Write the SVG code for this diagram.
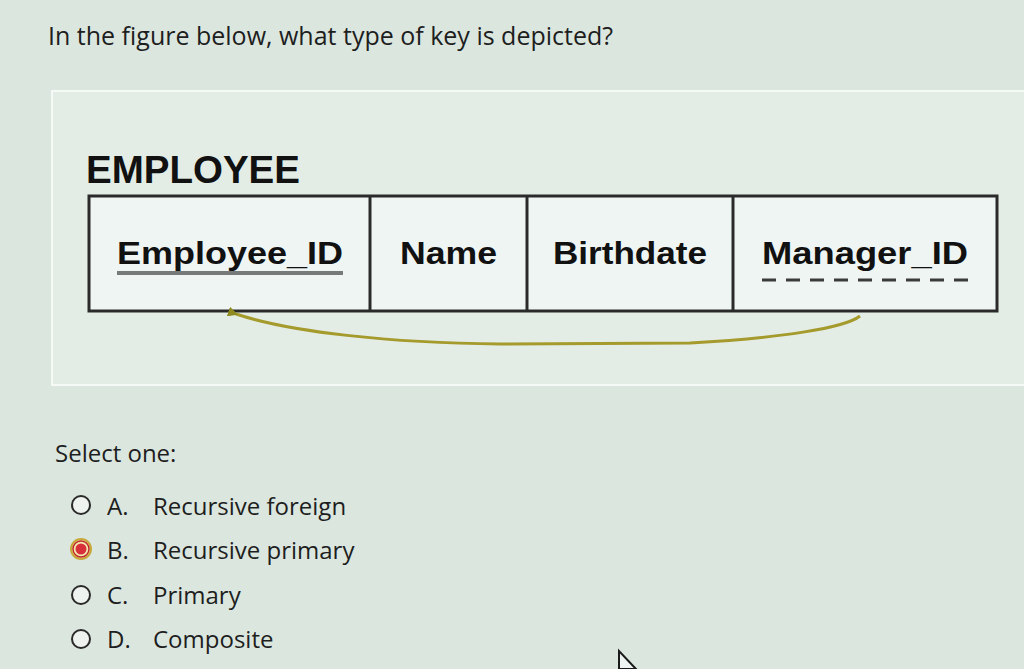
<svg xmlns="http://www.w3.org/2000/svg" width="1024" height="669" viewBox="0 0 1024 669">
<defs>
<style>
.q{font-family:"Open Sans","Noto Sans","Liberation Sans",sans-serif;font-size:24px;fill:#1e1e1e}
.t{font-size:25px}
.h{font-family:"Liberation Sans",Arial,sans-serif;font-weight:bold;fill:#111}
.cell{fill:#eef5f3;stroke:#2a2a2a;stroke-width:3}
.radio{fill:#eef3ef;stroke:#2a2a2a;stroke-width:2}
</style>
<marker id="ah" markerWidth="10" markerHeight="10" refX="2" refY="5" orient="auto" markerUnits="userSpaceOnUse">
<path d="M10,0 L0,5 L10,10 Z" fill="#8f8a20"/>
</marker>
</defs>
<rect x="0" y="0" width="1024" height="669" fill="#dbe7de"/>
<rect x="52" y="91" width="1000" height="294" fill="#e3ede6" stroke="#f6faf7" stroke-width="2"/>
<text class="q t" x="48" y="45">In the figure below, what type of key is depicted?</text>
<g id="employee-table">
<text class="h" x="86" y="183" font-size="38" textLength="214" lengthAdjust="spacingAndGlyphs">EMPLOYEE</text>
<rect class="cell" x="89" y="196" width="908" height="115"/>
<line x1="370" y1="196" x2="370" y2="311" stroke="#2a2a2a" stroke-width="3"/>
<line x1="527" y1="196" x2="527" y2="311" stroke="#2a2a2a" stroke-width="3"/>
<line x1="733" y1="196" x2="733" y2="311" stroke="#2a2a2a" stroke-width="3"/>
<text class="h" x="117" y="264" font-size="32" textLength="226" lengthAdjust="spacingAndGlyphs">Employee_ID</text>
<line x1="117" y1="273" x2="343" y2="273" stroke="#767a78" stroke-width="4"/>
<text class="h" x="400" y="264" font-size="32" textLength="97" lengthAdjust="spacingAndGlyphs">Name</text>
<text class="h" x="553" y="264" font-size="32" textLength="154" lengthAdjust="spacingAndGlyphs">Birthdate</text>
<text class="h" x="762" y="264" font-size="32" textLength="206" lengthAdjust="spacingAndGlyphs">Manager_ID</text>
<line x1="762" y1="280" x2="968" y2="280" stroke="#3a3a3a" stroke-width="3" stroke-dasharray="14,10"/>
</g>
<g id="connectors">
<path d="M860,316 C845,328 780,338 690,343 L500,344 C390,343 290,332 236,314" fill="none" stroke="#a59a2c" stroke-width="3" marker-end="url(#ah)"/>
</g>
<g id="options">
<text class="q" x="55" y="462">Select one:</text>
<circle class="radio" cx="81" cy="505" r="9"/>
<text class="q" x="107" y="515">A.</text>
<text class="q" x="153" y="515">Recursive foreign</text>
<circle cx="81" cy="549" r="10" fill="#f3e9b0" stroke="#c8a83a" stroke-width="2"/>
<circle cx="81" cy="549" r="8" fill="none" stroke="#c0282a" stroke-width="1.5"/>
<circle cx="81" cy="549" r="5.5" fill="#d8303a"/>
<text class="q" x="107" y="559">B.</text>
<text class="q" x="153" y="559">Recursive primary</text>
<circle class="radio" cx="81" cy="595" r="9"/>
<text class="q" x="107" y="604">C.</text>
<text class="q" x="153" y="604">Primary</text>
<circle class="radio" cx="81" cy="639" r="9"/>
<text class="q" x="107" y="648">D.</text>
<text class="q" x="153" y="648">Composite</text>
</g>
<path d="M619,651 L619,669 L636,669 Z" fill="#eef4f2" stroke="#1a1a1a" stroke-width="2"/>
</svg>
